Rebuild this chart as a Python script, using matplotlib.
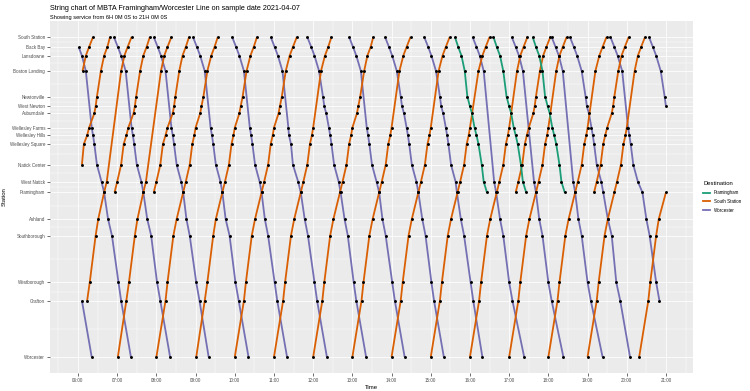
import matplotlib
matplotlib.use("Agg")
import matplotlib.pyplot as plt
from matplotlib.lines import Line2D

plt.rcParams['font.family'] = ['Liberation Sans', 'DejaVu Sans']

# stations, top to bottom, with distance from South Station (miles)
station_names = ["South Station", "Back Bay", "Lansdowne", "Boston Landing", "Newtonville",
                 "West Newton", "Auburndale", "Wellesley Farms", "Wellesley Hills",
                 "Wellesley Square", "Natick Center", "West Natick", "Framingham", "Ashland",
                 "Southborough", "Westborough", "Grafton", "Worcester"]
station_codes = ["SS", "BB", "LAN", "BL", "NTV", "WN", "AUB", "WF", "WH", "WS", "NC",
                 "WNat", "FRM", "ASH", "SB", "WB", "GRA", "WOR"]
station_miles = [0.0, 1.38, 2.58, 4.71, 8.26, 9.61, 10.57, 12.55, 13.62, 14.81, 17.68,
                 20.03, 21.51, 25.2, 27.5, 33.97, 36.5, 44.3]

hour_labels = ["06:00", "07:00", "08:00", "09:00", "10:00", "11:00", "12:00", "13:00",
               "14:00", "15:00", "16:00", "17:00", "18:00", "19:00", "20:00", "21:00"]

# inbound trains, destination South Station
to_south_station = [
    "BL 6:07, LAN 6:12, BB 6:17, SS 6:23",
    "NC 6:06, WS 6:09, WH 6:14, WF 6:17, AUB 6:25, WN 6:27, NTV 6:29, BL 6:35, LAN 6:40, BB 6:45, SS 6:49",
    "GRA 6:14, WB 6:18, SB 6:27, ASH 6:31, FRM 6:40, WNat 6:44, BL 7:06, LAN 7:11, BB 7:16, SS 7:22",
    "FRM 6:56, WNat 7:00, NC 7:06, WS 7:10, WH 7:14, WF 7:17, AUB 7:25, WN 7:27, NTV 7:29, BL 7:35, LAN 7:40, BB 7:45, SS 7:50",
    "WOR 7:01, GRA 7:14, WB 7:18, SB 7:27, ASH 7:31, FRM 7:40, WNat 7:44, BL 8:07, LAN 8:12, BB 8:17, SS 8:23",
    "FRM 7:56, WNat 8:00, NC 8:06, WS 8:10, WH 8:14, WF 8:17, AUB 8:25, WN 8:27, NTV 8:29, BL 8:35, LAN 8:40, BB 8:45, SS 8:50",
    "WOR 8:00, GRA 8:14, WB 8:17, SB 8:26, ASH 8:31, FRM 8:41, WNat 8:45, NC 8:51, WS 8:55, WH 8:58, WF 9:00, AUB 9:07, WN 9:09, NTV 9:12, BL 9:18, LAN 9:24, BB 9:29, SS 9:34",
    "WOR 9:01, GRA 9:14, WB 9:18, SB 9:27, ASH 9:31, FRM 9:41, WNat 9:45, NC 9:51, WS 9:55, WH 9:58, WF 10:00, AUB 10:07, WN 10:09, NTV 10:12, BL 10:18, LAN 10:24, BB 10:29, SS 10:34",
    "WOR 10:00, GRA 10:14, WB 10:17, SB 10:26, ASH 10:31, FRM 10:41, WNat 10:45, NC 10:51, WS 10:55, WH 10:58, WF 11:00, AUB 11:07, WN 11:09, NTV 11:12, BL 11:18, LAN 11:24, BB 11:29, SS 11:35",
    "WOR 11:00, GRA 11:14, WB 11:17, SB 11:26, ASH 11:31, FRM 11:41, WNat 11:45, NC 11:51, WS 11:55, WH 11:58, WF 12:00, BL 12:12, LAN 12:18, BB 12:23, SS 12:28",
    "WOR 12:00, GRA 12:14, WB 12:17, SB 12:26, ASH 12:31, FRM 12:41, WNat 12:45, NC 12:51, WS 12:55, WH 12:58, WF 13:00, AUB 13:07, WN 13:09, NTV 13:12, BL 13:18, LAN 13:23, BB 13:28, SS 13:32",
    "WOR 13:00, GRA 13:14, WB 13:17, SB 13:26, ASH 13:31, FRM 13:41, WNat 13:45, NC 13:51, WS 13:55, WH 13:58, WF 14:00, BL 14:12, LAN 14:18, BB 14:23, SS 14:29",
    "WOR 14:00, GRA 14:14, WB 14:17, SB 14:26, ASH 14:31, FRM 14:41, WNat 14:45, NC 14:51, WS 14:55, WH 14:58, WF 15:00, BL 15:12, LAN 15:18, BB 15:23, SS 15:29",
    "WOR 15:00, GRA 15:14, WB 15:17, SB 15:26, ASH 15:31, FRM 15:41, WNat 15:45, NC 15:51, WS 15:55, WH 15:58, WF 16:00, BL 16:13, LAN 16:19, BB 16:24, SS 16:30",
    "WOR 16:00, GRA 16:14, WB 16:17, SB 16:26, ASH 16:31, FRM 16:41, WNat 16:45, NC 16:51, WS 16:55, WH 16:58, WF 17:00, BL 17:12, LAN 17:17, BB 17:22, SS 17:28",
    "FRM 17:10, WNat 17:14, NC 17:20, WS 17:24, WH 17:27, WF 17:30, AUB 17:37, WN 17:39, NTV 17:41, BL 17:47, LAN 17:52, BB 17:57, SS 18:03",
    "WOR 17:00, GRA 17:14, WB 17:17, SB 17:26, ASH 17:31, FRM 17:41, WNat 17:45, NC 17:51, WS 17:55, WH 17:58, WF 18:00, BL 18:12, LAN 18:17, BB 18:22, SS 18:28",
    "WOR 18:00, GRA 18:14, WB 18:17, SB 18:26, ASH 18:31, FRM 18:41, WNat 18:45, NC 18:51, WS 18:55, WH 18:58, WF 19:00, BL 19:12, LAN 19:18, BB 19:23, SS 19:29",
    "FRM 19:10, WNat 19:14, NC 19:20, WS 19:24, WH 19:27, WF 19:30, AUB 19:37, WN 19:39, NTV 19:41, BL 19:47, LAN 19:52, BB 19:57, SS 20:03",
    "WOR 19:00, GRA 19:14, WB 19:17, SB 19:26, ASH 19:31, FRM 19:41, WNat 19:45, NC 19:51, WS 19:55, WH 19:58, WF 20:00, BL 20:12, LAN 20:17, BB 20:22, SS 20:28",
    "WOR 20:19, GRA 20:33, WB 20:36, SB 20:45, ASH 20:49, FRM 21:00",
]

# outbound trains, destination Worcester
to_worcester = [
    "GRA 6:06, WOR 6:21",
    "BB 6:01, LAN 6:06, BL 6:12, WF 6:21, WH 6:23, WS 6:25, NC 6:29, WNat 6:36, FRM 6:40, ASH 6:46, SB 6:52, WB 7:02, GRA 7:06, WOR 7:21",
    "SS 6:55, BB 7:01, LAN 7:06, BL 7:13, WF 7:22, WH 7:24, WS 7:26, NC 7:30, WNat 7:37, FRM 7:40, ASH 7:46, SB 7:52, WB 8:01, GRA 8:06, WOR 8:21",
    "SS 7:56, BB 8:02, LAN 8:07, BL 8:14, WF 8:23, WH 8:25, WS 8:27, NC 8:31, WNat 8:38, FRM 8:41, ASH 8:46, SB 8:51, WB 9:01, GRA 9:06, WOR 9:20",
    "SS 8:56, BB 9:02, LAN 9:07, BL 9:14, WF 9:23, WH 9:25, WS 9:27, NC 9:31, WNat 9:38, FRM 9:41, ASH 9:46, SB 9:52, WB 10:01, GRA 10:06, WOR 10:21",
    "SS 9:56, BB 10:02, LAN 10:07, BL 10:14, WF 10:23, WH 10:25, WS 10:27, NC 10:31, WNat 10:38, FRM 10:41, ASH 10:46, SB 10:51, WB 11:01, GRA 11:05, WOR 11:20",
    "SS 10:55, BB 11:01, LAN 11:06, BL 11:13, WF 11:22, WH 11:23, WS 11:26, NC 11:29, WNat 11:37, FRM 11:41, ASH 11:47, SB 11:52, WB 12:02, GRA 12:06, WOR 12:21",
    "SS 11:51, BB 11:57, LAN 12:02, BL 12:09, NTV 12:15, WN 12:17, AUB 12:20, WF 12:24, WH 12:26, WS 12:28, NC 12:32, WNat 12:39, FRM 12:42, ASH 12:48, SB 12:53, WB 13:02, GRA 13:06, WOR 13:21",
    "SS 12:55, BB 13:01, LAN 13:06, BL 13:13, WF 13:22, WH 13:24, WS 13:26, NC 13:30, WNat 13:37, FRM 13:41, ASH 13:46, SB 13:51, WB 14:01, GRA 14:05, WOR 14:20",
    "SS 13:50, BB 13:56, LAN 14:01, BL 14:08, NTV 14:14, WN 14:16, AUB 14:19, WF 14:23, WH 14:25, WS 14:27, NC 14:31, WNat 14:38, FRM 14:41, ASH 14:47, SB 14:52, WB 15:01, GRA 15:05, WOR 15:20",
    "SS 14:50, BB 14:56, LAN 15:01, BL 15:08, NTV 15:14, WN 15:16, AUB 15:19, WF 15:23, WH 15:25, WS 15:27, NC 15:31, WNat 15:38, FRM 15:40, ASH 15:46, SB 15:51, WB 16:01, GRA 16:05, WOR 16:19",
    "SS 16:04, BB 16:10, LAN 16:15, BL 16:21, WNat 16:37, FRM 16:40, ASH 16:46, SB 16:51, WB 17:00, GRA 17:05, WOR 17:23",
    "SS 17:04, BB 17:10, LAN 17:15, BL 17:21, WNat 17:38, FRM 17:41, ASH 17:46, SB 17:51, WB 18:00, GRA 18:05, WOR 18:23",
    "SS 18:05, BB 18:11, LAN 18:16, BL 18:22, WNat 18:38, FRM 18:41, ASH 18:46, SB 18:51, WB 19:00, GRA 19:05, WOR 19:23",
    "SS 18:33, BB 18:39, LAN 18:44, BL 18:51, NTV 18:57, WN 18:59, AUB 19:02, WF 19:06, WH 19:08, WS 19:10, NC 19:14, WNat 19:21, FRM 19:24, ASH 19:31, SB 19:37, WB 19:44, GRA 19:50, WOR 20:05",
    "SS 19:35, BB 19:41, LAN 19:46, BL 19:53, WF 20:02, WH 20:04, WS 20:06, NC 20:10, WNat 20:17, FRM 20:24, ASH 20:30, SB 20:35, WB 20:45, GRA 20:50",
    "SS 20:34, BB 20:40, LAN 20:45, BL 20:52, NTV 20:58, WN 21:00",
]

# outbound short trips, destination Framingham
to_framingham = [
    "SS 15:37, BB 15:42, LAN 15:47, BL 15:52, NTV 15:56, WN 16:00, AUB 16:03, WF 16:07, WH 16:10, WS 16:13, NC 16:18, WNat 16:21, FRM 16:26",
    "SS 16:36, BB 16:41, LAN 16:46, BL 16:51, NTV 16:56, WN 17:00, AUB 17:03, WF 17:07, WH 17:10, WS 17:13, NC 17:18, WNat 17:21, FRM 17:26",
    "SS 17:36, BB 17:41, LAN 17:46, BL 17:51, NTV 17:55, WN 17:59, AUB 18:02, WF 18:06, WH 18:09, WS 18:12, NC 18:17, WNat 18:20, FRM 18:25",
]

colours = {"Framingham": "#1B9E77", "South Station": "#D95F02", "Worcester": "#7570B3"}
mile_of = dict(zip(station_codes, station_miles))


def parse(trip):
    xs, ys = [], []
    for stop in trip.split(","):
        code, hm = stop.split()
        h, m = hm.split(":")
        xs.append(int(h) + int(m) / 60)
        ys.append(mile_of[code])
    return xs, ys


fig = plt.figure(figsize=(7.5, 3.91), dpi=100)
ax = fig.add_axes([50 / 750, 1 - 373 / 391, 643 / 750, 352 / 391])
ax.set_facecolor("#EBEBEB")
for s in ax.spines.values():
    s.set_visible(False)

# grid
hours = list(range(6, 22))
for h in hours:
    ax.axvline(h, color="white", lw=0.55, zorder=0)
    ax.axvline(h - 0.5, color="white", lw=0.3, zorder=0)
ax.axvline(21.5, color="white", lw=0.3, zorder=0)
for i, y in enumerate(station_miles):
    ax.axhline(y, color="white", lw=0.55, zorder=0)
    if i > 0:
        ax.axhline((y + station_miles[i - 1]) / 2, color="white", lw=0.3, zorder=0)

pts_x, pts_y = [], []
for dest, trips in [("Worcester", to_worcester), ("South Station", to_south_station),
                    ("Framingham", to_framingham)]:
    for trip in trips:
        xs, ys = parse(trip)
        ax.plot(xs, ys, color=colours[dest], lw=1.3, zorder=2, solid_capstyle="butt")
        pts_x += xs
        pts_y += ys
ax.scatter(pts_x, pts_y, s=4.5, color="black", zorder=3, linewidths=0)

ax.set_xlim(5.286, 21.69)
ax.set_ylim(46.515, -2.215)
ax.set_xticks(hours)
ax.set_xticklabels(hour_labels)
ax.set_yticks(station_miles)
ax.set_yticklabels(station_names)
ax.tick_params(axis="both", length=2, width=0.5, color="#333333", labelsize=3.25,
               labelcolor="#4D4D4D", pad=1.5)
ax.set_xlabel("Time", fontsize=4.3, labelpad=1.5)
ax.set_ylabel("Station", fontsize=4.3)
ax.yaxis.set_label_coords(-0.068, 0.5)

fig.text(50 / 750, 1 - 8 / 391, "String chart of MBTA Framingham/Worcester Line on sample date 2021-04-07",
         fontsize=5.2, va="center", ha="left")
fig.text(50 / 750, 1 - 17.5 / 391, "Showing service from 6H 0M 0S to 21H 0M 0S",
         fontsize=4.05, va="center", ha="left")

handles = [Line2D([], [], color=colours[k], lw=1.3) for k in ["Framingham", "South Station", "Worcester"]]
leg = fig.legend(handles, ["Framingham", "South Station", "Worcester"], title="Destination",
                 loc="center left", bbox_to_anchor=(699 / 750, 1 - 197 / 391), frameon=False,
                 fontsize=3.25, title_fontsize=4.25, handlelength=1.5, handletextpad=0.9,
                 labelspacing=0.85)
leg._legend_box.align = "left"

fig.savefig("out.png", dpi=100)
